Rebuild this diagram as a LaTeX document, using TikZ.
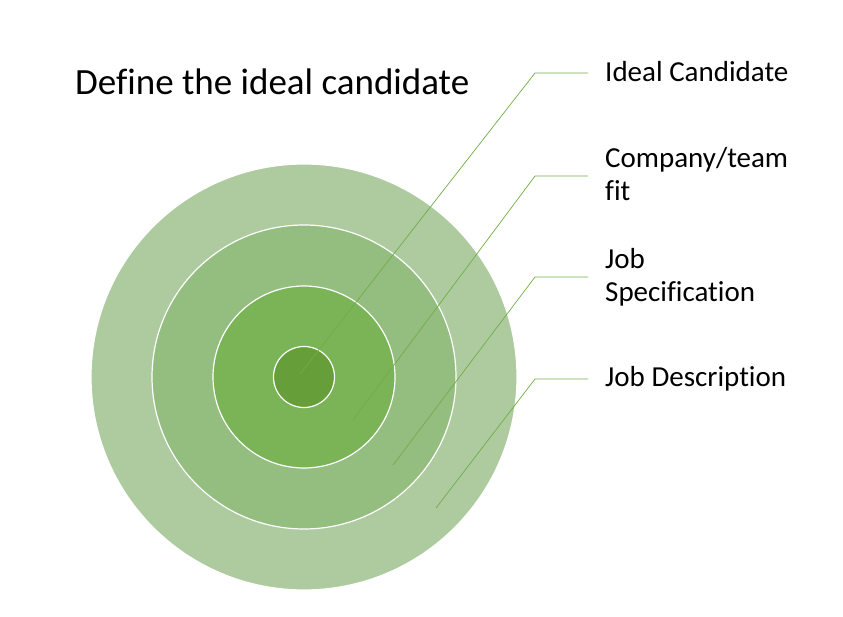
\documentclass[tikz,border=0pt]{standalone}
\usepackage{fontspec}
\setmainfont{Carlito}[Ligatures=NoCommon]
\usepackage{tikz}
\usetikzlibrary{positioning}
\definecolor{ringouter}{RGB}{173,203,159}
\definecolor{ringtwo}{RGB}{148,190,127}
\definecolor{ringthree}{RGB}{122,180,86}
\definecolor{ringcore}{RGB}{102,158,58}
\definecolor{leadgreen}{RGB}{112,173,71}

\begin{document}
\begin{tikzpicture}[
  x=1pt, y=-1pt,
  ring/.style={circle, draw=white, line width=1.2pt, inner sep=0pt},
  tag/.style={anchor=west, align=left, font=\fontsize{29}{33}\selectfont, inner sep=0pt},
  leader/.style={draw=leadgreen, line width=0.7pt}
]
  \useasboundingbox (0,0) rectangle (843,617);

  % Title
  \node[anchor=west, font=\fontsize{37}{42}\selectfont, inner sep=0pt] (title) at (75,82) {Define the ideal candidate};

  % Rings, outer to inner
  \node[ring, fill=ringouter, minimum size=426pt] (outer) at (304,377) {};
  \node[ring, fill=ringtwo, minimum size=304pt] (second) at (304,377) {};
  \node[ring, fill=ringthree, minimum size=182pt] (third) at (304,377) {};
  \node[ring, fill=ringcore, minimum size=61pt] (core) at (304,377) {};

  % Labels
  \node[tag] (lcore) at (605,72) {Ideal Candidate};
  \node[tag] (lthree) at (605,174) {Company/team\\fit};
  \node[tag] (ltwo) at (605,277) {Job\\Specification};
  \node[tag] (louter) at (605,379) {Job Description};

  % Leader lines
  \coordinate (pcore) at (300,374);
  \coordinate (pthree) at (353,420);
  \coordinate (ptwo) at (393,465);
  \coordinate (pouter) at (436,508);
  \draw[leader] (pcore) -- (535,73) -- ([xshift=-17pt]lcore.west |- 0,73);
  \draw[leader] (pthree) -- (535,176) -- ([xshift=-17pt]lthree.west |- 0,176);
  \draw[leader] (ptwo) -- (535,277) -- ([xshift=-17pt]ltwo.west |- 0,277);
  \draw[leader] (pouter) -- (535,379) -- ([xshift=-17pt]louter.west |- 0,379);
\end{tikzpicture}
\end{document}
